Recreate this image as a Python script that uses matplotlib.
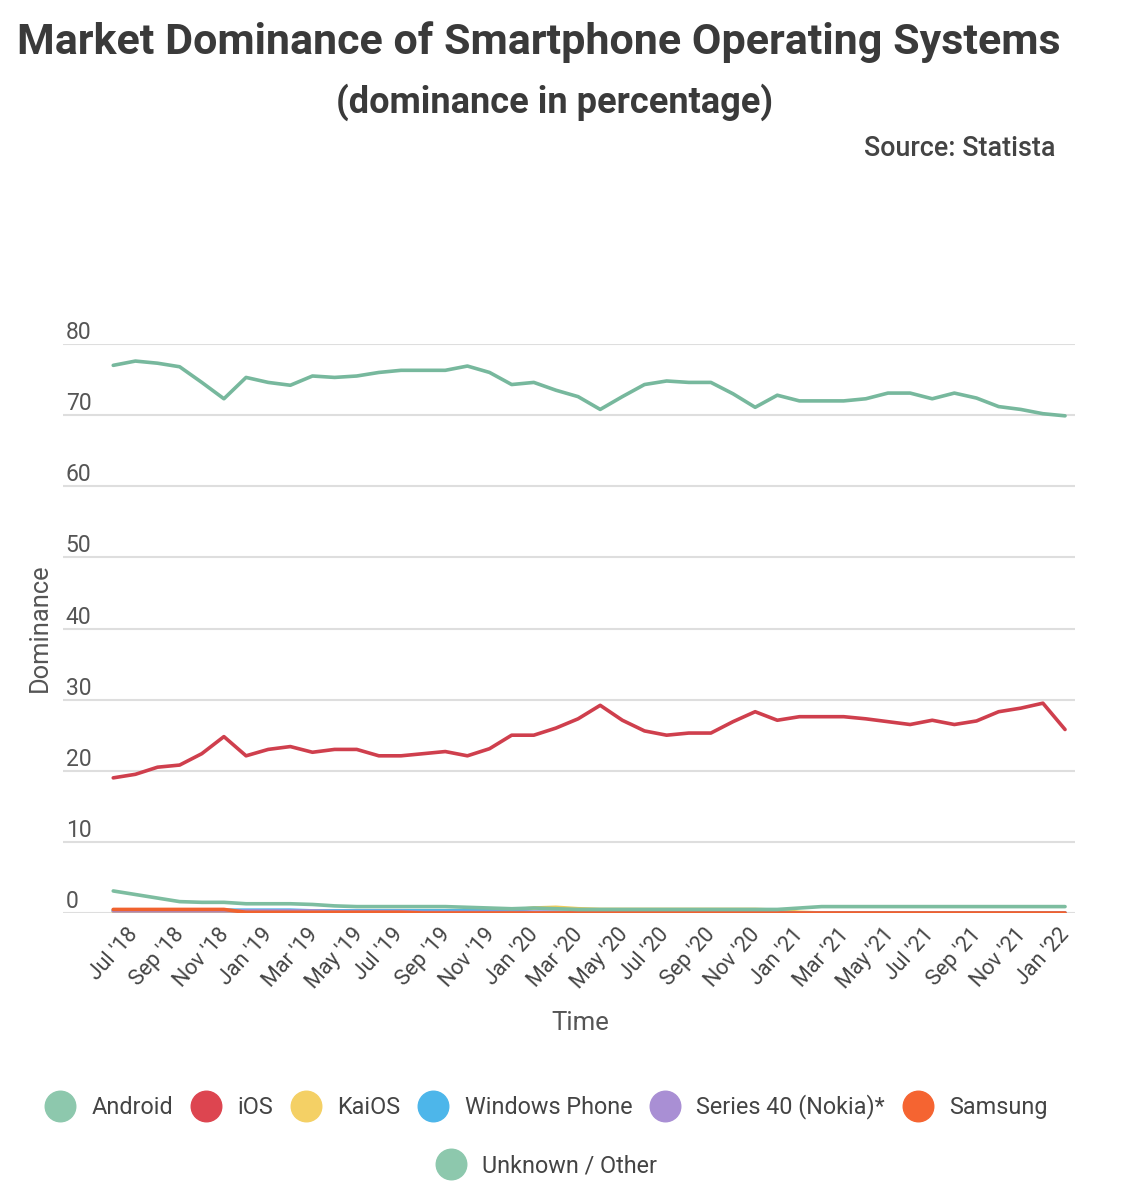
import matplotlib
matplotlib.use("Agg")
import matplotlib.pyplot as plt
from matplotlib.lines import Line2D
import numpy as np

plt.rcParams['font.family'] = ['Roboto', 'DejaVu Sans']

months = ["Jul '18", "Aug '18", "Sep '18", "Oct '18", "Nov '18", "Dec '18",
          "Jan '19", "Feb '19", "Mar '19", "Apr '19", "May '19", "Jun '19",
          "Jul '19", "Aug '19", "Sep '19", "Oct '19", "Nov '19", "Dec '19",
          "Jan '20", "Feb '20", "Mar '20", "Apr '20", "May '20", "Jun '20",
          "Jul '20", "Aug '20", "Sep '20", "Oct '20", "Nov '20", "Dec '20",
          "Jan '21", "Feb '21", "Mar '21", "Apr '21", "May '21", "Jun '21",
          "Jul '21", "Aug '21", "Sep '21", "Oct '21", "Nov '21", "Dec '21",
          "Jan '22", "Feb '22"]

android = [77.0, 77.6, 77.3, 76.8, 74.6, 72.3, 75.3, 74.6, 74.2, 75.5, 75.3, 75.5,
           76.0, 76.3, 76.3, 76.3, 76.9, 76.0, 74.3, 74.6, 73.5, 72.6, 70.8, 72.6,
           74.3, 74.8, 74.6, 74.6, 73.0, 71.1, 72.8, 72.0, 72.0, 72.0, 72.3, 73.1,
           73.1, 72.3, 73.1, 72.4, 71.2, 70.8, 70.2, 69.9]
ios = [19.0, 19.5, 20.5, 20.8, 22.4, 24.8, 22.1, 23.0, 23.4, 22.6, 23.0, 23.0,
       22.1, 22.1, 22.4, 22.7, 22.1, 23.1, 25.0, 25.0, 26.0, 27.3, 29.2, 27.1,
       25.6, 25.0, 25.3, 25.3, 26.9, 28.3, 27.1, 27.6, 27.6, 27.6, 27.3, 26.9,
       26.5, 27.1, 26.5, 27.0, 28.3, 28.8, 29.5, 25.8]
kaios = [0.2, 0.2, 0.2, 0.2, 0.2, 0.2, 0.2, 0.2, 0.2, 0.2, 0.2, 0.2,
         0.2, 0.2, 0.3, 0.3, 0.3, 0.3, 0.4, 0.7, 0.8, 0.6, 0.5, 0.5,
         0.5, 0.5, 0.5, 0.5, 0.5, 0.5, 0.4, 0.1, 0.0, 0.0, 0.0, 0.0,
         0.0, 0.0, 0.0, 0.0, 0.0, 0.0, 0.0, 0.0]
windows = [0.4, 0.4, 0.4, 0.4, 0.4, 0.4, 0.4, 0.4, 0.4, 0.3, 0.3, 0.3,
           0.3, 0.3, 0.3, 0.3, 0.3, 0.3, 0.2, 0.1, 0.1, 0.1, 0.1, 0.1,
           0.1, 0.1, 0.1, 0.1, 0.1, 0.1, 0.1, 0.0, 0.0, 0.0, 0.0, 0.0,
           0.0, 0.0, 0.0, 0.0, 0.0, 0.0, 0.0, 0.0]
series40 = [0.3, 0.3, 0.3, 0.3, 0.3, 0.3, 0.3, 0.3, 0.3, 0.3, 0.2, 0.2,
            0.2, 0.2, 0.1, 0.1, 0.1, 0.1, 0.1, 0.1, 0.1, 0.0, 0.0, 0.0,
            0.0, 0.0, 0.0, 0.0, 0.0, 0.0, 0.0, 0.0, 0.0, 0.0, 0.0, 0.0,
            0.0, 0.0, 0.0, 0.0, 0.0, 0.0, 0.0, 0.0]
samsung = [0.5, 0.5, 0.5, 0.5, 0.5, 0.5, 0.1, 0.1, 0.1, 0.1, 0.1, 0.1,
           0.1, 0.1, 0.0, 0.0, 0.0, 0.0, 0.0, 0.0, 0.0, 0.0, 0.0, 0.0,
           0.0, 0.0, 0.0, 0.0, 0.0, 0.0, 0.0, 0.0, 0.0, 0.0, 0.0, 0.0,
           0.0, 0.0, 0.0, 0.0, 0.0, 0.0, 0.0, 0.0]
unknown = [3.1, 2.6, 2.1, 1.6, 1.5, 1.5, 1.3, 1.3, 1.3, 1.2, 1.0, 0.9,
           0.9, 0.9, 0.9, 0.9, 0.8, 0.7, 0.6, 0.7, 0.6, 0.5, 0.5, 0.5,
           0.5, 0.5, 0.5, 0.5, 0.5, 0.5, 0.5, 0.7, 0.9, 0.9, 0.9, 0.9,
           0.9, 0.9, 0.9, 0.9, 0.9, 0.9, 0.9, 0.9]

series_names = ["Android", "iOS", "KaiOS", "Windows Phone", "Series 40 (Nokia)*",
                "Samsung", "Unknown / Other"]
series_values = [android, ios, kaios, windows, series40, samsung, unknown]
line_colors = ["#77b89d", "#cf3f4d", "#f0cc58", "#4cb3e6", "#a48bd0", "#f0622e", "#7dbda0"]
legend_colors = ["#8dc8ad", "#dd4550", "#f4d065", "#4db6ea", "#a98fd4", "#f56431", "#8dc8ad"]

y_ticks = [0, 10, 20, 30, 40, 50, 60, 70, 80]

fig = plt.figure(figsize=(11.31, 12.0), dpi=100)
W, H = 1131, 1200
ax_left, ax_right, ax_bottom, ax_top = 63, 1075, 913, 344
ax = fig.add_axes([ax_left / W, 1 - ax_bottom / H, (ax_right - ax_left) / W,
                   (ax_bottom - ax_top) / H])

x = np.arange(len(months))
for name, vals, c in zip(series_names, series_values, line_colors):
    ax.plot(x, vals, color=c, lw=2.6, solid_joinstyle='round', solid_capstyle='round',
            label=name, zorder=3)

ax.set_xlim(-2.27, 43.45)
ax.set_ylim(0, 80)
for s in ax.spines.values():
    s.set_visible(False)
ax.set_yticks(y_ticks)
ax.set_yticklabels([])
ax.tick_params(axis='y', length=0)
ax.grid(axis='y', color='#dedede', lw=1.5, zorder=0)
ax.grid(axis='x', visible=False)
for t in y_ticks:
    ax.annotate(str(t), xy=(0.0, t), xycoords=ax.get_yaxis_transform(),
                xytext=(2, 0), textcoords='offset points', ha='left', va='bottom',
                fontsize=16.5, color='#555555')

ax.set_xticks(x[::2])
ax.set_xticklabels(months[::2], rotation=48, ha='center', va='top', fontsize=15.5,
                   color='#444444', rotation_mode='default')
ax.tick_params(axis='x', length=0, pad=8)

fig.text(40 / W, 1 - 628 / H, "Dominance", rotation=90, ha='center', va='center',
         fontsize=18.4, color='#555555')
fig.text(580 / W, 1 - 1023 / H, "Time", ha='center', va='center', fontsize=18.5,
         color='#555555')

fig.text(539 / W, 1 - 42 / H, "Market Dominance of Smartphone Operating Systems",
         ha='center', va='center', fontsize=31, fontweight='bold', color='#3a3a3a')
fig.text(555 / W, 1 - 102 / H, "(dominance in percentage)", ha='center', va='center',
         fontsize=26, fontweight='bold', color='#3a3a3a')
fig.text(1056 / W, 1 - 148 / H, "Source: Statista", ha='right', va='center',
         fontsize=19.4, fontweight='medium', color='#444444')

handles = [Line2D([], [], ls='none', marker='o', markersize=22, markerfacecolor=c,
                  markeredgecolor=c) for c in legend_colors]
leg1 = fig.legend(handles[:6], series_names[:6], loc='center', ncol=6,
                  bbox_to_anchor=(547 / W, 1 - 1107 / H), frameon=False,
                  fontsize=16.8, handletextpad=0.75, columnspacing=0.8,
                  handlelength=1.2, labelcolor='#444444')
leg2 = fig.legend(handles[6:], series_names[6:], loc='center', ncol=1,
                  bbox_to_anchor=(547 / W, 1 - 1166 / H), frameon=False,
                  fontsize=16.8, handletextpad=0.75, handlelength=1.2,
                  labelcolor='#444444')

fig.savefig("out.png", dpi=100)
